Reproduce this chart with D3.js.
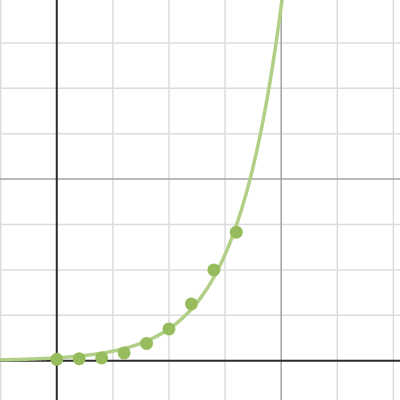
<!DOCTYPE html>
<html>
<head>
<meta charset="utf-8">
<title>Exponential fit</title>
<script src="https://cdnjs.cloudflare.com/ajax/libs/d3/7.8.5/d3.min.js"></script>
<style>
  html, body { margin: 0; padding: 0; background: #fff; }
  svg { display: block; }
</style>
</head>
<body>
<script>
// data points
var xValues = [0, 2, 4, 6, 8, 10, 12, 14, 16];
var yValues = [0.3, 0.44, 0.6, 1.7, 3.8, 7.0, 12.5, 20.0, 28.3];

// fitted model y = a * e^(b x)
var fitA = 0.63;
var fitB = 0.241;

// grid ticks
var xMinorTicks = [-5, 5, 10, 15, 25, 30];
var xMajorTicks = [20];
var yMinorTicks = [-10, 10, 20, 30, 50, 60, 70];
var yMajorTicks = [40];

var width = 400, height = 400;

var x = d3.scaleLinear().domain([-5.06, 30.59]).range([0, width]);
var y = d3.scaleLinear().domain([-8.66, 79.45]).range([height, 0]);

var svg = d3.select('body').append('svg')
	.attr('width', width)
	.attr('height', height);

// minor grid
svg.append('g').selectAll('line')
	.data(xMinorTicks)
	.enter().append('line')
	.attr('x1', function(d) { return x(d); })
	.attr('x2', function(d) { return x(d); })
	.attr('y1', 0).attr('y2', height)
	.attr('stroke', '#dcdcdc').attr('stroke-width', 1.5);

svg.append('g').selectAll('line')
	.data(yMinorTicks)
	.enter().append('line')
	.attr('y1', function(d) { return y(d); })
	.attr('y2', function(d) { return y(d); })
	.attr('x1', 0).attr('x2', width)
	.attr('stroke', '#dcdcdc').attr('stroke-width', 1.5);

// major grid
svg.append('g').selectAll('line')
	.data(xMajorTicks)
	.enter().append('line')
	.attr('x1', function(d) { return x(d); })
	.attr('x2', function(d) { return x(d); })
	.attr('y1', 0).attr('y2', height)
	.attr('stroke', '#a3a3a3').attr('stroke-width', 1.5);

svg.append('g').selectAll('line')
	.data(yMajorTicks)
	.enter().append('line')
	.attr('y1', function(d) { return y(d); })
	.attr('y2', function(d) { return y(d); })
	.attr('x1', 0).attr('x2', width)
	.attr('stroke', '#a3a3a3').attr('stroke-width', 1.5);

// axes
svg.append('line')
	.attr('x1', x(0)).attr('x2', x(0))
	.attr('y1', 0).attr('y2', height)
	.attr('stroke', '#2b2b2b').attr('stroke-width', 2);
svg.append('line')
	.attr('x1', 0).attr('x2', width)
	.attr('y1', y(0)).attr('y2', y(0))
	.attr('stroke', '#2b2b2b').attr('stroke-width', 2);

// fitted curve
var curvePts = d3.range(-5.1, 30.6, 0.05).map(function(t) {
	return [t, fitA * Math.exp(fitB * t)];
});
svg.append('path')
	.datum(curvePts)
	.attr('fill', 'none')
	.attr('stroke', '#b1cf86')
	.attr('stroke-width', 3.5)
	.attr('d', d3.line()
		.x(function(d) { return x(d[0]); })
		.y(function(d) { return y(d[1]); }));

// points
svg.append('g').selectAll('circle')
	.data(xValues)
	.enter().append('circle')
	.attr('cx', function(d) { return x(d); })
	.attr('cy', function(d, i) { return y(yValues[i]); })
	.attr('r', 6.5)
	.attr('fill', '#97bc5e');
</script>
</body>
</html>
